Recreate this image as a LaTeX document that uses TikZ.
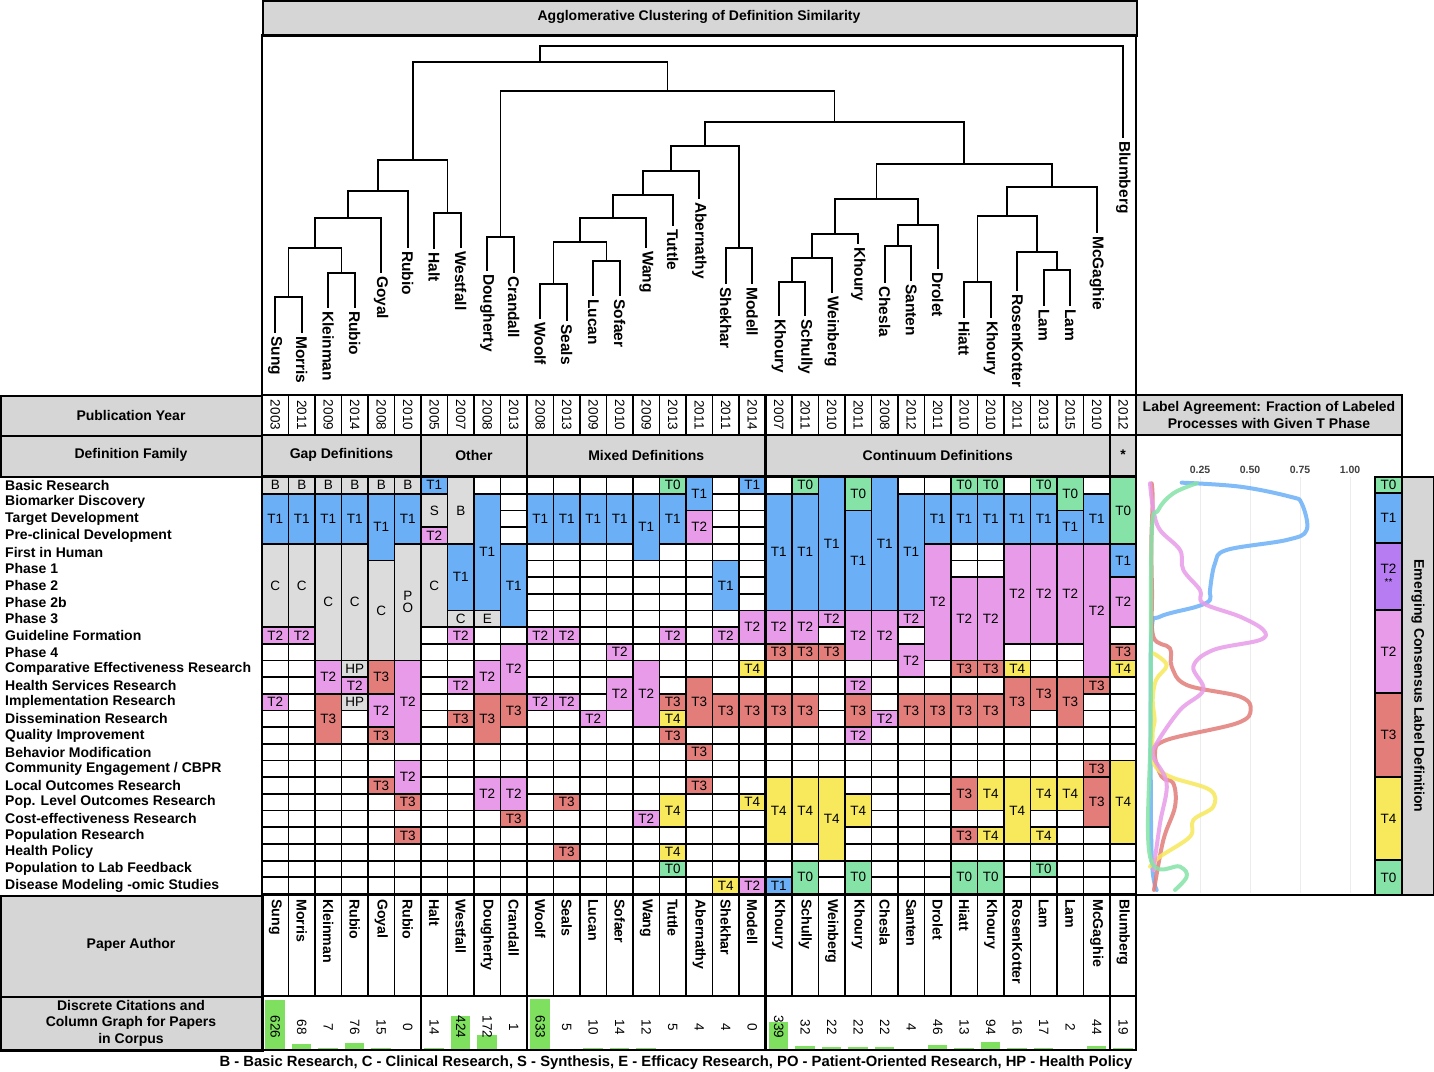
\documentclass[tikz,border=0pt]{standalone}
\usepackage{fontspec}
\setmainfont{Liberation Sans}
\definecolor{gy}{HTML}{DCDCDC}
\definecolor{hd}{HTML}{D6D6D6}
\definecolor{bl}{HTML}{6BB0F7}
\definecolor{pk}{HTML}{E79BE8}
\definecolor{rd}{HTML}{E27D7A}
\definecolor{yl}{HTML}{F7E85C}
\definecolor{gn}{HTML}{85E3A8}
\definecolor{pu}{HTML}{B77CF2}
\definecolor{bar}{HTML}{7EE05E}
\begin{document}
\begin{tikzpicture}[x=1pt,y=-1pt,
  cellsty/.style={draw=black,line width=1.7},
  celltxt/.style={inner sep=0pt,font=\fontsize{13.5}{13.5}\selectfont},
  hdbox/.style={draw=black,line width=1.5,fill=hd},
  hdtxt/.style={font=\bfseries\fontsize{14}{16.5}\selectfont,align=center},
  dend/.style={line width=1.8,line cap=rect},
  leaf/.style={rotate=-90,anchor=west,inner sep=0pt,font=\bfseries\fontsize{15.5}{16}\selectfont},
  auth/.style={rotate=-90,anchor=west,inner sep=0pt,font=\bfseries\fontsize{14.2}{14.5}\selectfont},
  rowlab/.style={anchor=west,inner sep=0pt,font=\bfseries\fontsize{14}{14.5}\selectfont},
  curve/.style={line width=4,opacity=0.85,line cap=round,line join=round}]
\useasboundingbox (0,0) rectangle (1434,1071);
% title and dendrogram box
\node[hdbox,minimum width=874,minimum height=35,anchor=north west] (title) at (262,0) {};
\node[hdtxt] at (699,17) {Agglomerative Clustering of Definition Similarity};
\draw[line width=1.5] (262,35) rectangle (1136,395);
% dendrogram
\draw[dend] (275.3,332)--(275.3,297)--(301.8,297)--(301.8,332);
\draw[dend] (328.3,307)--(328.3,273)--(354.8,273)--(354.8,307);
\draw[dend] (288.5,297)--(288.5,248)--(341.5,248)--(341.5,273);
\draw[dend] (315,248)--(315,218)--(381.3,218)--(381.3,272);
\draw[dend] (348.2,218)--(348.2,191)--(407.8,191)--(407.8,247);
\draw[dend] (434.3,248)--(434.3,213)--(460.8,213)--(460.8,247);
\draw[dend] (378,191)--(378,160)--(447.5,160)--(447.5,213);
\draw[dend] (487.3,270)--(487.3,237)--(513.8,237)--(513.8,272);
\draw[dend] (540.3,318)--(540.3,284)--(566.8,284)--(566.8,320);
\draw[dend] (593.3,295)--(593.3,261)--(619.8,261)--(619.8,295);
\draw[dend] (553.5,284)--(553.5,242)--(606.5,242)--(606.5,261);
\draw[dend] (580,242)--(580,218)--(646.3,218)--(646.3,247);
\draw[dend] (613,218)--(613,195)--(672.8,195)--(672.8,225);
\draw[dend] (643,195)--(643,171)--(699.3,171)--(699.3,198);
\draw[dend] (725.8,283)--(725.8,248)--(752.3,248)--(752.3,283);
\draw[dend] (671,171)--(671,146)--(739,146)--(739,248);
\draw[dend] (778.8,315)--(778.8,282)--(805.3,282)--(805.3,315);
\draw[dend] (792,282)--(792,258)--(831.8,258)--(831.8,292);
\draw[dend] (812,258)--(812,234)--(858.3,234)--(858.3,243);
\draw[dend] (884.8,282)--(884.8,246)--(911.3,246)--(911.3,280);
\draw[dend] (898,246)--(898,225)--(937.8,225)--(937.8,268);
\draw[dend] (835,234)--(835,199)--(918,199)--(918,225);
\draw[dend] (964.3,317)--(964.3,282)--(990.8,282)--(990.8,317);
\draw[dend] (1043.8,305)--(1043.8,270)--(1070.3,270)--(1070.3,305);
\draw[dend] (1017.3,290)--(1017.3,252)--(1057,252)--(1057,270);
\draw[dend] (977.5,282)--(977.5,216)--(1037,216)--(1037,252);
\draw[dend] (1007,216)--(1007,187)--(1096.8,187)--(1096.8,232);
\draw[dend] (876.5,199)--(876.5,164)--(1052,164)--(1052,187);
\draw[dend] (705,146)--(705,122)--(964,122)--(964,164);
\draw[dend] (500.5,237)--(500.5,91)--(834.5,91)--(834.5,122);
\draw[dend] (412.8,160)--(412.8,62)--(667.5,62)--(667.5,91);
\draw[dend] (540,62)--(540,46)--(1123.3,46)--(1123.3,137);
\foreach \n/\e [count=\i from 0] in {Sung/332,Morris/332,Kleinman/307,Rubio/307,Goyal/272,Rubio/247,Halt/248,Westfall/247,Dougherty/270,Crandall/272,Woolf/318,Seals/320,Lucan/295,Sofaer/295,Wang/247,Tuttle/225,Abernathy/198,Shekhar/283,Modell/283,Khoury/315,Schully/315,Weinberg/292,Khoury/243,Chesla/282,Santen/280,Drolet/268,Hiatt/317,Khoury/317,RosenKotter/290,Lam/305,Lam/305,McGaghie/232,Blumberg/137}
  \node[leaf] (d\i) at ({275.25+26.5*\i},{\e+4}) {\n};
% left header boxes
\node[hdbox,minimum width=262,minimum height=40,anchor=north west] (py) at (0,395) {};
\node[hdtxt] at (131,415) {Publication Year};
\node[hdbox,minimum width=262,minimum height=41,anchor=north west] (df) at (0,435) {};
\node[hdtxt] at (131,455) {Definition Family};
\node[hdbox,minimum width=262,minimum height=101,anchor=north west] (pa) at (0,895) {};
\node[hdtxt] at (131,945) {Paper Author};
\node[hdbox,minimum width=262,minimum height=54,anchor=north west] (dc) at (0,996) {};
\node[hdtxt] at (131,1023) {Discrete Citations and\\Column Graph for Papers\\in Corpus};
% years
\foreach \yr [count=\i from 0] in {2003,2011,2009,2014,2008,2010,2005,2007,2008,2013,2008,2013,2009,2010,2009,2013,2011,2011,2014,2007,2011,2010,2011,2008,2012,2011,2010,2010,2011,2013,2015,2010,2012}{
  \draw[line width=1.5,fill=white] ({262+26.5*\i},395) rectangle ({262+26.5*(\i+1)},435);
  \node[rotate=-90,inner sep=0pt,font=\fontsize{13.5}{14}\selectfont] (y\i) at ({275.25+26.5*\i},415) {\yr};
}
% family
\foreach \a/\b/\t in {262/421/Gap Definitions,421/527/Other,527/765.5/Mixed Definitions,765.5/1110/Continuum Definitions,1110/1136/*}{
  \draw[hdbox] (\a,435) rectangle (\b,476);
  \node[hdtxt] at ({(\a+\b)/2},455) {\t};
}
% row labels
\foreach \t [count=\r from 0] in {Basic Research,Biomarker Discovery,Target Development,Pre-clinical Development,First in Human,Phase 1,Phase 2,Phase 2b,Phase 3,Guideline Formation,Phase 4,Comparative Effectiveness Research,Health Services Research,Implementation Research,Dissemination Research,Quality Improvement,Behavior Modification,Community Engagement / CBPR,Local Outcomes Research,Pop. Level Outcomes Research,Cost-effectiveness Research,Population Research,Health Policy,Population to Lab Feedback,Disease Modeling -omic Studies}
  \node[rowlab] (rl\r) at (5,{477+16.68*(\r+0.5)}) {\t};
% white grid
\foreach \c in {0,...,32}{\foreach \r in {0,...,24}{
  \draw[cellsty,fill=white] ({262+26.5*\c},{477+16.68*\r}) rectangle ({262+26.5*(\c+1)},{477+16.68*(\r+1)});}}
% coloured cells
\foreach \c/\a/\b/\col/\t in {
0/0/1/gy/B,0/1/4/bl/T1,0/4/9/gy/C,0/9/10/pk/T2,0/13/14/pk/T2,
1/0/1/gy/B,1/1/4/bl/T1,1/4/9/gy/C,1/9/10/pk/T2,
2/0/1/gy/B,2/1/4/bl/T1,2/4/11/gy/C,2/11/13/pk/T2,2/13/16/rd/T3,
3/0/1/gy/B,3/1/4/bl/T1,3/4/11/gy/C,3/11/12/gy/HP,3/12/13/pk/T2,3/13/14/gy/HP,
4/0/1/gy/B,4/1/5/bl/T1,4/5/11/gy/C,4/11/13/rd/T3,4/13/15/pk/T2,4/15/16/rd/T3,4/18/19/rd/T3,
5/0/1/gy/B,5/1/4/bl/T1,5/4/11/gy/{\shortstack{P\\O}},5/11/16/pk/T2,5/17/19/pk/T2,5/19/20/rd/T3,5/21/22/rd/T3,
6/0/1/bl/T1,6/1/3/gy/S,6/3/4/pk/T2,6/4/9/gy/C,
7/0/4/gy/B,7/4/8/bl/T1,7/8/9/gy/C,7/9/10/pk/T2,7/12/13/pk/T2,7/14/15/rd/T3,
8/1/8/bl/T1,8/8/9/gy/E,8/11/13/pk/T2,8/13/16/rd/T3,8/18/20/pk/T2,
9/4/9/bl/T1,9/10/13/pk/T2,9/13/15/rd/T3,9/18/20/pk/T2,9/20/21/rd/T3,
10/1/4/bl/T1,10/9/10/pk/T2,10/13/14/pk/T2,
11/1/4/bl/T1,11/9/10/pk/T2,11/13/14/pk/T2,11/19/20/rd/T3,11/22/23/rd/T3,
12/1/4/bl/T1,12/14/15/pk/T2,
13/1/4/bl/T1,13/10/11/pk/T2,13/12/14/pk/T2,
14/1/5/bl/T1,14/11/15/pk/T2,14/20/21/pk/T2,
15/0/1/gn/T0,15/1/4/bl/T1,15/9/10/pk/T2,15/13/14/rd/T3,15/14/15/yl/T4,15/15/16/rd/T3,15/19/21/yl/T4,15/22/23/yl/T4,15/23/24/gn/T0,
16/0/2/bl/T1,16/2/4/pk/T2,16/12/15/rd/T3,16/16/17/rd/T3,16/18/19/rd/T3,
17/5/8/bl/T1,17/9/10/pk/T2,17/13/15/rd/T3,17/24/25/yl/T4,
18/0/1/bl/T1,18/8/10/pk/T2,18/11/12/yl/T4,18/13/15/rd/T3,18/19/20/yl/T4,18/24/25/pk/T2,
19/1/8/bl/T1,19/8/10/pk/T2,19/10/11/rd/T3,19/13/15/rd/T3,19/18/22/yl/T4,19/24/25/bl/T1,
20/0/1/gn/T0,20/1/8/bl/T1,20/8/10/pk/T2,20/10/11/rd/T3,20/13/15/rd/T3,20/18/22/yl/T4,20/23/25/gn/T0,
21/0/8/bl/T1,21/8/9/pk/T2,21/10/11/rd/T3,21/18/23/yl/T4,
22/0/2/gn/T0,22/2/8/bl/T1,22/8/11/pk/T2,22/12/13/pk/T2,22/13/15/rd/T3,22/15/16/pk/T2,22/19/21/yl/T4,22/23/25/gn/T0,
23/0/8/bl/T1,23/8/11/pk/T2,23/14/15/pk/T2,
24/1/8/bl/T1,24/8/9/pk/T2,24/10/12/pk/T2,24/13/15/rd/T3,
25/1/4/bl/T1,25/4/11/pk/T2,25/13/15/rd/T3,
26/0/1/gn/T0,26/1/4/bl/T1,26/6/11/pk/T2,26/11/12/rd/T3,26/13/15/rd/T3,26/18/20/rd/T3,26/21/22/rd/T3,26/23/25/gn/T0,
27/0/1/gn/T0,27/1/4/bl/T1,27/6/11/pk/T2,27/11/12/rd/T3,27/13/15/rd/T3,27/18/20/yl/T4,27/21/22/yl/T4,27/23/25/gn/T0,
28/1/4/bl/T1,28/4/10/pk/T2,28/11/12/yl/T4,28/12/15/rd/T3,28/18/22/yl/T4,
29/0/1/gn/T0,29/1/4/bl/T1,29/4/10/pk/T2,29/12/14/rd/T3,29/18/20/yl/T4,29/21/22/yl/T4,29/23/24/gn/T0,
30/0/2/gn/T0,30/2/4/bl/T1,30/4/10/pk/T2,30/12/15/rd/T3,30/18/20/yl/T4,
31/1/4/bl/T1,31/4/12/pk/T2,31/12/13/rd/T3,31/17/18/rd/T3,31/18/21/rd/T3,
32/0/4/gn/T0,32/4/6/bl/T1,32/6/9/pk/T2,32/10/11/rd/T3,32/11/12/yl/T4,32/17/22/yl/T4}{
  \draw[cellsty,fill=\col] ({262+26.5*\c},{477+16.68*\a}) rectangle ({262+26.5*(\c+1)},{477+16.68*\b});
  \node[celltxt] at ({275.25+26.5*\c},{477+16.68*(\a+\b)/2}) {\t};
}
% group separators in grid
\foreach \gx in {262,421,527,765.5,1110,1136}
  \draw[line width=2.2] (\gx,395) -- (\gx,1050);
% authors
\foreach \n [count=\i from 0] in {Sung,Morris,Kleinman,Rubio,Goyal,Rubio,Halt,Westfall,Dougherty,Crandall,Woolf,Seals,Lucan,Sofaer,Wang,Tuttle,Abernathy,Shekhar,Modell,Khoury,Schully,Weinberg,Khoury,Chesla,Santen,Drolet,Hiatt,Khoury,RosenKotter,Lam,Lam,McGaghie,Blumberg}{
  \draw[line width=1.5] ({262+26.5*\i},895) rectangle ({262+26.5*(\i+1)},996);
  \node[auth] (a\i) at ({275.25+26.5*\i},899) {\n};
}
% citations
\draw[line width=1.5] (262,996) rectangle (1136,1050);
\foreach \n [count=\i from 0] in {626,68,7,76,15,0,14,424,172,1,633,5,10,14,12,5,4,4,0,339,32,22,22,22,4,46,13,94,16,17,2,44,19}{
  \fill[bar] ({262+26.5*\i+3},1049) rectangle ({262+26.5*(\i+1)-4},{1049-\n/633*50});
  \node[rotate=-90,inner sep=0pt,font=\fontsize{13.5}{14}\selectfont] (c\i) at ({275.25+26.5*\i},1027) {\n};
}
\foreach \gx in {262,421,527,765.5,1110,1136}
  \draw[line width=2.2] (\gx,996) -- (\gx,1050);
\draw[line width=1.5] (0,1050) -- (1136,1050);
\node[font=\bfseries\fontsize{14.8}{15}\selectfont] (legend) at (676,1063) {B - Basic Research, C - Clinical Research, S - Synthesis, E - Efficacy Research, PO - Patient-Oriented Research, HP - Health Policy};
% right panel
\draw[hdbox] (1136,395) rectangle (1402,435);
\node[hdtxt] (lah) at (1269,415) {Label Agreement: Fraction of Labeled\\Processes with Given T Phase};
\draw[line width=1.5] (1136,435) rectangle (1402,895);
\foreach \v/\t in {0.25/0.25,0.50/0.50,0.75/0.75,1.00/1.00}{
  \draw[gray!15,line width=0.8] ({1150+200*\v},477) -- ({1150+200*\v},893);
  \node[font=\bfseries\fontsize{10.5}{11}\selectfont,text=black!75] at ({1150+200*\v},470) {\t};
}
\begin{scope}[shift={(1130,390)},x=0.3333pt,y=-0.3333pt]
\draw[curve,color=bl] plot[smooth,tension=0.6] coordinates {(155,278)(330,290)(480,320)(515,340)(530,420)(470,450)(290,480)(255,520)(240,600)(240,630)(200,650)(90,680)(65,720)(62,1000)(65,1400)(80,1500)};
\draw[curve,color=rd] plot[smooth,tension=0.6] coordinates {(65,280)(68,330)(64,460)(66,600)(70,740)(120,775)(125,830)(170,885)(330,920)(362,960)(320,1000)(110,1050)(75,1090)(95,1160)(130,1180)(135,1250)(100,1350)(72,1500)};
\draw[curve,color=yl] plot[smooth,tension=0.6] coordinates {(70,790)(110,825)(78,870)(68,930)(74,990)(68,1030)(72,1120)(120,1160)(240,1200)(250,1250)(190,1290)(180,1340)(90,1400)(60,1430)};
\draw[curve,color=pk] plot[smooth,tension=0.6] coordinates {(60,280)(70,360)(90,420)(150,480)(160,540)(210,600)(220,640)(330,680)(400,720)(390,750)(250,780)(190,830)(220,900)(150,960)(80,1060)(70,1100)(110,1180)(90,1300)(70,1440)};
\draw[curve,color=gn] plot[smooth,tension=0.6] coordinates {(200,280)(130,310)(85,360)(65,440)(62,1000)(60,1400)(150,1430)(170,1460)(135,1500)};
\end{scope}
\foreach \a/\b/\col/\t in {477/493/gn/T0,493/543/bl/T1,543/610/pu/{},610/693/pk/T2,693/777/rd/T3,777/860/yl/T4,860/895/gn/T0}{
  \draw[cellsty,fill=\col] (1375,\a) rectangle (1402,\b);
  \node[celltxt] at (1388.5,{(\a+\b)/2}) {\t};
}
\node[celltxt] (t2s) at (1388.5,569) {T2};
\node[inner sep=0pt,font=\fontsize{10}{10}\selectfont] (stars) at (1388.5,582) {**};
\draw[hdbox] (1402,477) rectangle (1434,895);
\node[hdtxt,rotate=-90] (ecl) at (1418,686) {Emerging Consensus Label Definition};
\end{tikzpicture}
\end{document}
